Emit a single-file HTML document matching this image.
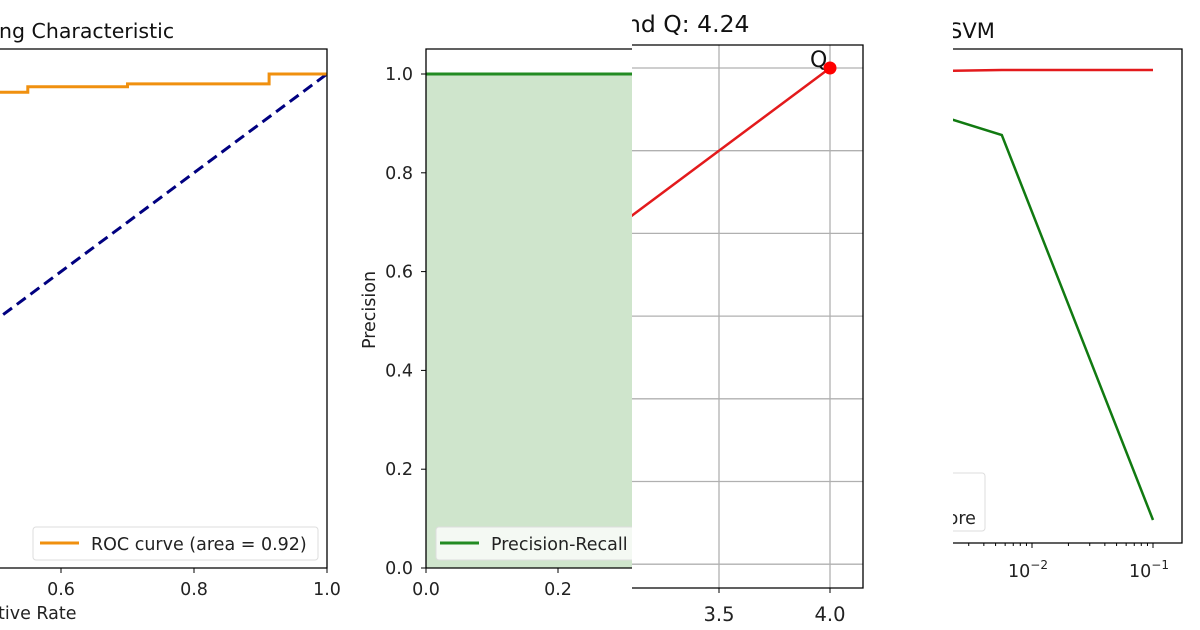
<!DOCTYPE html>
<html><head><meta charset="utf-8"><style>
body{margin:0;background:#fff;}
svg{display:block;font-family:"DejaVu Sans","Liberation Sans",sans-serif;}
</style></head><body>
<svg id="c" width="1200" height="630" viewBox="0 0 1200 630">
<defs>
<clipPath id="c1"><rect x="0" y="49" width="327" height="519"/></clipPath>
<clipPath id="c2"><rect x="426" y="49" width="206" height="519"/></clipPath>
<clipPath id="c3"><rect x="632" y="45" width="231" height="543"/></clipPath>
<clipPath id="c3t"><rect x="632" y="0" width="321" height="630"/></clipPath>
<clipPath id="c4"><rect x="953" y="49" width="229" height="494"/></clipPath>
<clipPath id="c4t"><rect x="953" y="0" width="247" height="630"/></clipPath>
</defs>
<g id="p1"></g>
<g id="p2"></g>
<g id="p3"></g>
<g id="p4"></g>
</svg>
<script>
// ROC data
const rocFpr=[0,0.55,0.55,0.70,0.70,0.913,0.913,1.0];
const rocTpr=[0.963,0.963,0.974,0.974,0.98,0.98,1.0,1.0];
const diagX=[0,1], diagY=[0,1];
const rocTicks=[0.6,0.8,1.0];
// PR data
const prRecall=[0,1];
const prPrecision=[1,1];
const prYTicks=[0,0.2,0.4,0.6,0.8,1.0];
const prXTicks=[0.0,0.2];
// Q panel data
const qX=[3,4];
const qY=[2,4];
const qXTicks=[3.5,4.0];
const qYGrid=[-2,-1,0,1,2,3,4];
// SVM validation curve data (log10 of param)
const svmLogX=[-3.5,-2.25,-1];
const svmTrain=[0.995,1.0,1.0];
const svmTest=[0.964,0.87,0.1];
const svmTickExp=[-2,-1];

const NS='http://www.w3.org/2000/svg';
function mk(parent,tag,attrs,text){const e=document.createElementNS(NS,tag);for(const k in attrs)e.setAttribute(k,attrs[k]);if(text!==undefined)e.textContent=text;parent.appendChild(e);return e;}
function path(xs,ys,fx,fy){return xs.map((x,i)=>(i?'L':'M')+fx(x).toFixed(1)+' '+fy(ys[i]).toFixed(1)).join(' ');}
const TF=17.5;

// Panel 1
(function(){
const g=document.getElementById('p1');
const fx=v=>-338+v*665, fy=v=>568-v*494;
let t=mk(g,'text',{x:-1,y:38,'font-size':20.5,fill:'#111'},'ng Characteristic');

const cg=mk(g,'g',{'clip-path':'url(#c1)'});
let d=mk(cg,'path',{d:path(diagX,diagY,fx,fy),stroke:'#000080','stroke-width':3,'stroke-dasharray':'11 6',fill:'none'});

let r=mk(cg,'path',{d:path(rocFpr,rocTpr,fx,fy),stroke:'#f0900f','stroke-width':3,fill:'none'});

mk(g,'path',{d:'M0 49H327V568H0',stroke:'#000','stroke-width':1.3,fill:'none'});
rocTicks.forEach(v=>{const x=fx(v);mk(g,'line',{x1:x,x2:x,y1:568,y2:573,stroke:'#000'});
let l=mk(g,'text',{x:x,y:595,'font-size':TF,'text-anchor':'middle',fill:'#222'},v.toFixed(1));
});
let xl=mk(g,'text',{x:-2,y:619,'font-size':TF,fill:'#222'},'tive Rate');

const lg=mk(g,'g',{});
mk(lg,'rect',{x:33,y:527,width:285,height:33,rx:3,fill:'#fff',stroke:'#ddd'});
mk(lg,'line',{x1:40,x2:79,y1:543,y2:543,stroke:'#f0900f','stroke-width':3});
mk(lg,'text',{x:91,y:550,'font-size':TF,fill:'#222'},'ROC curve (area = 0.92)');
})();

// Panel 2
(function(){
const g=document.getElementById('p2');
const fx=v=>426+v*660, fy=v=>568-v*494;
const cg=mk(g,'g',{'clip-path':'url(#c2)'});
let f=mk(cg,'path',{d:path(prRecall,prPrecision,fx,fy)+` L${fx(1)} ${fy(0)} L${fx(0)} ${fy(0)} Z`,fill:'#cfe5cc'});

let l=mk(cg,'path',{d:path(prRecall,prPrecision,fx,fy),stroke:'#228b22','stroke-width':3,fill:'none'});

mk(g,'path',{d:'M640 49H426V568H640',stroke:'#000','stroke-width':1.3,fill:'none'});
prYTicks.forEach(v=>{const y=fy(v);mk(g,'line',{x1:421,x2:426,y1:y,y2:y,stroke:'#000'});
let t=mk(g,'text',{x:413,y:y+6,'font-size':TF,'text-anchor':'end',fill:'#222'},v.toFixed(1));
});
prXTicks.forEach(v=>{const x=fx(v);mk(g,'line',{x1:x,x2:x,y1:568,y2:573,stroke:'#000'});
let t=mk(g,'text',{x:x,y:595,'font-size':TF,'text-anchor':'middle',fill:'#222'},v.toFixed(1));
});
let yl=mk(g,'text',{x:0,y:0,'font-size':TF,'text-anchor':'middle',fill:'#222',transform:'translate(375,310) rotate(-90)'},'Precision');

const lg=mk(g,'g',{});
mk(lg,'rect',{x:436,y:527,width:220,height:33,rx:3,fill:'#f4f9f3',stroke:'#ddd'});
mk(lg,'line',{x1:440,x2:479,y1:543,y2:543,stroke:'#228b22','stroke-width':3});
mk(lg,'text',{x:491,y:550,'font-size':TF,fill:'#222'},'Precision-Recall');
})();

// Panel 3
(function(){
const g=document.getElementById('p3');
mk(g,'rect',{x:632,y:0,width:321,height:630,fill:'#fff'});
const fx=v=>719+(v-3.5)*222, fy=v=>68+(4-v)*82.7;
let t=mk(g,'text',{x:626,y:32,'font-size':23.5,fill:'#111','clip-path':'url(#c3t)'},'nd Q: 4.24');

qYGrid.forEach(v=>{const y=fy(v);let gl=mk(g,'line',{x1:632,x2:863,y1:y,y2:y,stroke:'#b0b0b0','stroke-width':1.3});
});
qXTicks.forEach(v=>{const x=fx(v);mk(g,'line',{x1:x,x2:x,y1:45,y2:588,stroke:'#b0b0b0','stroke-width':1.3});
mk(g,'line',{x1:x,x2:x,y1:588,y2:593,stroke:'#000'});
let l=mk(g,'text',{x:x,y:621,'font-size':19.5,'text-anchor':'middle',fill:'#222'},v.toFixed(1));
});
const cg=mk(g,'g',{'clip-path':'url(#c3)'});
let ln=mk(cg,'path',{d:path(qX,qY,fx,fy),stroke:'#e31a1c','stroke-width':2.5,fill:'none'});

const n=qX.length-1;
let pt=mk(g,'circle',{cx:fx(qX[n]),cy:fy(qY[n]),r:6.5,fill:'#f00'});

let q=mk(g,'text',{x:fx(qX[n])-20,y:fy(qY[n])-1,'font-size':22,fill:'#111'},'Q');

mk(g,'path',{d:'M632 45H863V588H632',stroke:'#000','stroke-width':1.3,fill:'none'});
})();

// Panel 4
(function(){
const g=document.getElementById('p4');
mk(g,'rect',{x:953,y:0,width:247,height:630,fill:'#fff'});
const fx=v=>1032+(v+2)*121, fy=v=>570-v*500;
let t=mk(g,'text',{x:949,y:38,'font-size':21,fill:'#111','clip-path':'url(#c4t)'},'SVM');

const cg=mk(g,'g',{'clip-path':'url(#c4)'});
let a=mk(cg,'path',{d:path(svmLogX,svmTrain,fx,fy),stroke:'#e31a1c','stroke-width':2.5,fill:'none'});

let b=mk(cg,'path',{d:path(svmLogX,svmTest,fx,fy),stroke:'#117a11','stroke-width':2.5,fill:'none'});

const lg=mk(g,'g',{'clip-path':'url(#c4t)'});
mk(lg,'rect',{x:900,y:473,width:85,height:58,rx:3,fill:'#fff',stroke:'#ddd'});
mk(lg,'text',{x:938,y:524,'font-size':TF,fill:'#222'},'core');
mk(g,'path',{d:'M953 49H1182V543H953',stroke:'#000','stroke-width':1.3,fill:'none'});
for(let e=-3;e<=-1;e++){for(let m=2;m<=9;m++){const x=fx(e+Math.log10(m));if(x>953&&x<1182)mk(g,'line',{x1:x,x2:x,y1:543,y2:546,stroke:'#000'});}}
svmTickExp.forEach(e=>{const x=fx(e);mk(g,'line',{x1:x,x2:x,y1:543,y2:548,stroke:'#000'});
const tx=mk(g,'text',{x:x-4,y:577,'font-size':TF,'text-anchor':'middle',fill:'#222'});

mk(tx,'tspan',{},'10');mk(tx,'tspan',{dy:-8,'font-size':12},'\u2212'+(-e));});
})();
</script>
</body></html>
